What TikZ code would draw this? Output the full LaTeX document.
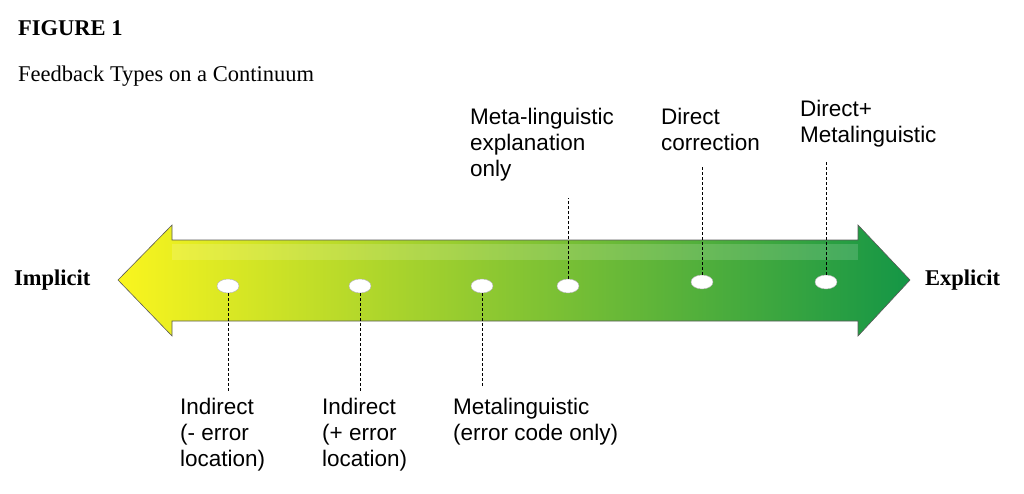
\documentclass[tikz,border=0pt]{standalone}
\usepackage{fontspec}
\setmainfont{Liberation Serif}
\newfontfamily\labelfont{Liberation Sans}
\usetikzlibrary{positioning, shapes.geometric}
\definecolor{arrowyellow}{RGB}{250,245,30}
\definecolor{arrowmid}{RGB}{170,215,40}
\definecolor{arrowgreen}{RGB}{20,150,70}
\begin{document}
\begin{tikzpicture}[
        x = 1pt, y = -1pt,
        marker/.style = {ellipse, draw = gray!60, fill = white, inner sep = 0pt,
                         minimum width = 22pt, minimum height = 14pt},
        tick/.style = {densely dashed, line width = 0.8pt},
        feedback/.style = {font = \labelfont\fontsize{22.5}{26}\selectfont, align = left, inner sep = 0pt},
        pole/.style = {font = \bfseries\fontsize{22.5}{26}\selectfont, inner sep = 0pt}
      ]
      \useasboundingbox (0,0) rectangle (1024,494);
      % titles
      \node[pole, anchor = west] (figure) at (18,28) {FIGURE 1};
      \node[font = \fontsize{22.5}{26}\selectfont, anchor = west, inner sep = 0pt] (title) at (18,76) {Feedback Types on a Continuum};
      % continuum arrow
      \shade[left color = arrowyellow, middle color = arrowmid, right color = arrowgreen, draw = gray!70!black, line width = 0.6pt]
        (118,280) -- (172,225) -- (172,240) -- (858,240) -- (858,225) -- (910,280)
        -- (858,336) -- (858,321) -- (172,321) -- (172,336) -- cycle;
      \fill[white, opacity = 0.15] (172,244) rectangle (858,260);
      \node[pole, anchor = west] (implicit) at (14,280) {Implicit};
      \node[pole, anchor = west] (explicit) at (925,280) {Explicit};
      % markers
      \node[marker] (m1) at (228,286) {};
      \node[marker] (m2) at (360,286) {};
      \node[marker] (m3) at (482,286) {};
      \node[marker] (m4) at (568,286) {};
      \node[marker] (m5) at (702,282) {};
      \node[marker] (m6) at (826,282) {};
      % labels below
      \node[feedback, anchor = north west] (l1) at (180,398) {Indirect\\(- error\\location)};
      \node[feedback, anchor = north west] (l2) at (322,398) {Indirect\\(+ error\\location)};
      \node[feedback, anchor = north west] (l3) at (453,398) {Metalinguistic\\(error code only)};
      % labels above
      \node[feedback, anchor = north west] (l4) at (470,108) {Meta-linguistic\\explanation\\only};
      \node[feedback, anchor = north west] (l5) at (661,108) {Direct\\correction};
      \node[feedback, anchor = north west] (l6) at (800,100) {Direct+\\Metalinguistic};
      % dashed ticks
      \coordinate (t1) at (228,392);
      \coordinate (t2) at (360,392);
      \coordinate (t3) at (482,386);
      \coordinate (t4) at (568,198);
      \coordinate (t5) at (702,166);
      \coordinate (t6) at (826,160);
      \foreach \i in {1,...,6}
        \draw[tick] (m\i) -- (t\i);
    \end{tikzpicture}
\end{document}
